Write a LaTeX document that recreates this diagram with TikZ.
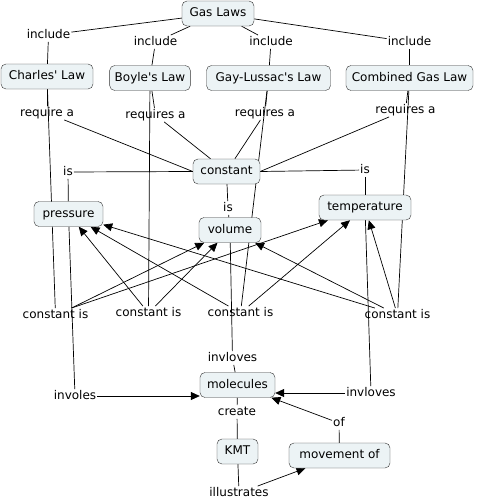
\documentclass[tikz,border=0pt]{standalone}
\usepackage{fontspec}
\setmainfont{DejaVu Sans}
\usepackage{xcolor}
\usetikzlibrary{arrows.meta}
\definecolor{cmapfill}{RGB}{236,243,245}
\pgfdeclarelayer{bg}
\pgfsetlayers{bg,main}

\begin{document}
\begin{tikzpicture}[
    x=1pt, y=-1pt,
    box/.style={draw=black!80, fill=cmapfill, rounded corners=5pt, minimum height=25pt,
                inner xsep=5pt, text height=9pt, text depth=2.5pt, font=\fontsize{12}{14}\selectfont},
    lbl/.style={inner sep=1pt, text height=9pt, text depth=2.5pt, font=\fontsize{12}{14}\selectfont},
    ln/.style={line width=0.7pt},
    arr/.style={ln, -{Triangle[length=9pt, width=8pt]}}
]
\useasboundingbox (0,0) rectangle (479,501);

% concepts
\node[box, minimum width=72pt] (gas) at (218,13.5) {Gas Laws};
\node[box, minimum width=92pt] (charles) at (47,76.5) {Charles\textquotesingle{} Law};
\node[box, minimum width=78pt] (boyle) at (150,78) {Boyle\textquotesingle{}s Law};
\node[box, minimum width=124pt] (gay) at (268.5,78) {Gay-Lussac\textquotesingle{}s Law};
\node[box, minimum width=127pt] (comb) at (409.5,78) {Combined Gas Law};
\node[box, minimum width=67pt] (const) at (226.5,171.5) {constant};
\node[box, minimum width=69pt] (press) at (68.5,214) {pressure};
\node[box, minimum width=62pt] (vol) at (230,230) {volume};
\node[box, minimum width=92pt] (temp) at (365,207.5) {temperature};
\node[box, minimum width=75pt] (mol) at (237.5,385) {molecules};
\node[box, minimum width=41pt] (kmt) at (237.5,451.5) {KMT};
\node[box, minimum width=101pt] (move) at (339.5,455.5) {movement of};

% linking phrases
\node[lbl] (incA) at (48.5,35) {include};
\node[lbl] (incB) at (155.5,42) {include};
\node[lbl] (incC) at (271,42) {include};
\node[lbl] (incD) at (409.5,42) {include};
\node[lbl] (reqA) at (47,113) {require a};
\node[lbl] (reqB) at (155.5,115) {requires a};
\node[lbl] (reqC) at (265,113) {requires a};
\node[lbl] (reqD) at (405.5,110) {requires a};
\node[lbl] (isA) at (68,172) {is};
\node[lbl] (isB) at (228,208) {is};
\node[lbl] (isC) at (365,170) {is};
\node[lbl] (csA) at (55.5,315) {constant is};
\node[lbl] (csB) at (148.5,313) {constant is};
\node[lbl] (csC) at (240.5,313) {constant is};
\node[lbl] (csD) at (397.5,315) {constant is};
\node[lbl] (invM) at (232.5,358) {invloves};
\node[lbl] (invL) at (75,396) {involes};
\node[lbl] (invR) at (371,393) {invloves};
\node[lbl] (create) at (237,412) {create};
\node[lbl] (of) at (339,423) {of};
\node[lbl] (illus) at (239,493) {illustrates};

\begin{pgfonlayer}{bg}
\draw[ln] (gas) -- (incA);
\draw[ln] (incA) -- (charles);
\draw[ln] (gas) -- (incB);
\draw[ln] (incB) -- (boyle);
\draw[ln] (gas) -- (incC);
\draw[ln] (incC) -- (gay);
\draw[ln] (gas) -- (incD);
\draw[ln] (incD) -- (comb);

\draw[ln] (charles) -- (reqA);
\draw[ln] (reqA) -- (const.west);
\draw[ln] (boyle) -- (reqB);
\draw[ln] (reqB) -- (const);
\draw[ln] (gay) -- (reqC);
\draw[ln] (reqC) -- (const);
\draw[ln] (comb) -- (reqD);
\draw[ln] (reqD) -- (const.east);

\draw[ln] (const.west) -- (isA);
\draw[ln] (isA) -- (press);
\draw[ln] (const) -- (isB);
\draw[ln] (isB) -- (vol);
\draw[ln] (const.east) -- (isC);
\draw[ln] (isC) -- (temp);

\draw[ln] (charles) -- (csA);
\draw[ln] (boyle) -- (csB);
\draw[ln] (gay) -- (csC);
\draw[ln] (comb) -- (csD);
\draw[arr] ([xshift=16pt]csA.north) -- (vol);
\draw[arr] ([xshift=16pt]csA.north) -- (temp);
\draw[arr] (csB) -- (press);
\draw[arr] (csB) -- (vol);
\draw[arr] (csC) -- (press);
\draw[arr] (csC) -- (temp);
\draw[arr] (csD) -- (press);
\draw[arr] (csD) -- (vol);
\draw[arr] (csD) -- (temp);

\draw[ln] (press) -- (invL);
\draw[arr] (invL) -- (invL -| mol.west);
\draw[ln] (vol) -- (invM);
\draw[ln] (invM) -- (mol);
\draw[ln] (temp) -- (invR);
\draw[arr] (invR) -- (invR -| mol.east);

\draw[ln] (mol) -- (create);
\draw[ln] (create) -- (kmt);
\draw[ln] (kmt) -- (illus);
\draw[arr] (illus) -- (move);
\draw[ln] (move) -- (of);
\draw[arr] (of) -- (mol);
\end{pgfonlayer}
\end{tikzpicture}
\end{document}
